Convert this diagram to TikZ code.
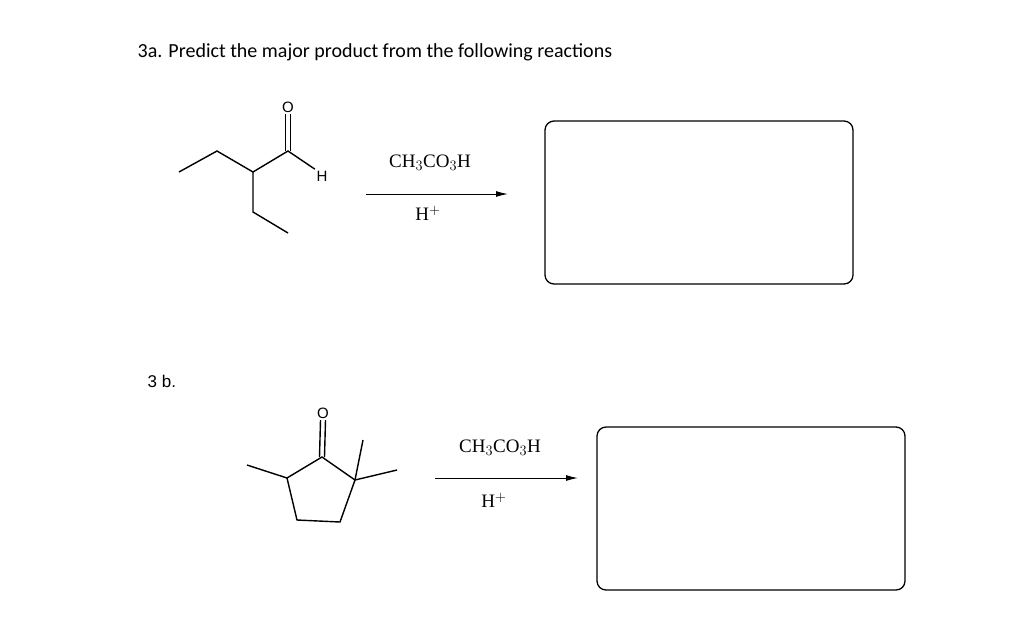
\documentclass[tikz,border=0pt]{standalone}
\usepackage{fontspec}
\usetikzlibrary{arrows.meta}
\setmainfont{Liberation Serif}
\newfontfamily\calfnt{Carlito}
\newfontfamily\arifnt{Liberation Sans}
\begin{document}
\begin{tikzpicture}[x=1pt,y=-1pt,line width=1.4pt,
  atom/.style={font=\arifnt\fontsize{15}{15}\selectfont,inner sep=1pt},
  reag/.style={font=\fontsize{19}{19}\selectfont,inner sep=0pt},
  box/.style={draw,rounded corners=9pt,line width=1.3pt},
  arr/.style={-{Latex[length=12pt,width=6pt]},line width=1pt}]
\useasboundingbox (0,0) rectangle (1024,625);
\node[anchor=west,font=\calfnt\fontsize{20}{20}\selectfont,inner sep=0pt] (t) at (137,52) {3a. Predict the major product from the following reactions};
\node[anchor=west,font=\arifnt\fontsize{17}{17}\selectfont,inner sep=0pt] (tb) at (147,381) {3 b.};
% molecule 1
\node[atom] (o1) at (288,107) {O};
\node[atom] (h1) at (322,176) {H};
\coordinate (a1) at (179,172); \coordinate (a2) at (217,151);
\coordinate (a3) at (253,172); \coordinate (a4) at (288,151);
\coordinate (a5) at (253,212); \coordinate (a6) at (288,233);
\draw (a1)--(a2)--(a3)--(a4)--(h1.north west);
\draw (a3)--(a5)--(a6);
\draw ([xshift=-2.5pt]a4)--([xshift=-2.5pt]o1.south);
\draw ([xshift=2.5pt]a4)--([xshift=2.5pt]o1.south);
% arrow 1
\coordinate (s1) at (366,194); \coordinate (e1) at (508,194);
\draw[arr] (s1)--(e1);
\node[reag] (r1) at (430,163) {CH$_3$CO$_3$H};
\node[reag] (p1) at (428,213) {H$^+$};
\node[box,minimum width=308pt,minimum height=163pt] (b1) at (699,202.5) {};
% molecule 2
\node[atom] (o2) at (323,413) {O};
\coordinate (c1) at (322,457); \coordinate (c2) at (287,478);
\coordinate (c3) at (297,520); \coordinate (c4) at (340,522);
\coordinate (c5) at (355,480); \coordinate (m1) at (247,465);
\coordinate (m2) at (363,440); \coordinate (m3) at (397,470);
\draw (c1)--(c2)--(c3)--(c4)--(c5)--cycle;
\draw (c2)--(m1); \draw (c5)--(m2); \draw (c5)--(m3);
\draw ([xshift=-2.5pt]c1)--([xshift=-2.5pt]o2.south);
\draw ([xshift=2.5pt]c1)--([xshift=2.5pt]o2.south);
% arrow 2
\coordinate (s2) at (435,478); \coordinate (e2) at (578,478);
\draw[arr] (s2)--(e2);
\node[reag] (r2) at (500,448) {CH$_3$CO$_3$H};
\node[reag] (p2) at (494,500) {H$^+$};
\node[box,minimum width=308pt,minimum height=163pt] (b2) at (751,508.5) {};
\end{tikzpicture}
\end{document}
